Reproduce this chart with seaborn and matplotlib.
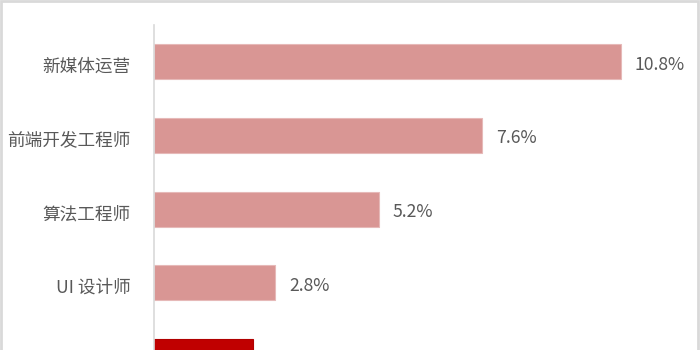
import matplotlib
matplotlib.use("Agg")
import matplotlib.pyplot as plt
import matplotlib.transforms as mtransforms
import seaborn as sns
import pandas as pd
from matplotlib.patches import Rectangle

categories = ["新媒体运营", "前端开发工程师", "算法工程师", "UI 设计师", "整体平均"]
values = [10.8, 7.6, 5.2, 2.8, 2.3]
value_labels = ["10.8%", "7.6%", "5.2%", "2.8%", "2.3%"]
bar_colors = ["#D99694", "#D99694", "#D99694", "#D99694", "#C00000"]

sns.set_theme(style="white")
plt.rcParams['font.family'] = ['Noto Sans CJK SC', 'DejaVu Sans']

df = pd.DataFrame({"category": categories, "value": values})

fig = plt.figure(figsize=(7, 3.5), dpi=100)
left = 154 / 700
ppu = 43.2
width = 12 * ppu / 700
spacing = 73.8
c0 = 61.5
top_px = 25
bottom_px = c0 + 4.52 * spacing
ylim_top = -(c0 - top_px) / spacing
ax = fig.add_axes([left, (350 - bottom_px) / 350, width, (bottom_px - top_px) / 350])

sns.barplot(data=df, x="value", y="category", hue="category", palette=bar_colors,
            legend=False, width=0.475, ax=ax, saturation=1, edgecolor="none")
for p, col in zip(ax.patches, bar_colors):
    p.set_edgecolor("#E6B9B8" if col == "#D99694" else "#B00000")
    p.set_linewidth(0.8)

ax.set_xlim(0, 12)
ax.set_ylim(4.52, ylim_top)
ax.set_xlabel("")
ax.set_ylabel("")
ax.set_xticks([])
ax.tick_params(axis="y", length=0, pad=17, labelsize=12.7, labelcolor="#595959")
shift = mtransforms.ScaledTranslation(0, -3 / 100, fig.dpi_scale_trans)
for lbl in ax.get_yticklabels():
    lbl.set_transform(lbl.get_transform() + shift)
ax.get_yticklabels()[-1].set_visible(False)
for s in ["top", "right", "bottom"]:
    ax.spines[s].set_visible(False)
ax.spines["left"].set_color("#D9D9D9")
ax.spines["left"].set_linewidth(1.2)

for i, (v, lab) in enumerate(zip(values, value_labels)):
    if i == len(values) - 1:
        continue  # off the visible picture
    ax.text(v + 14 / ppu, i, lab, va="center", ha="left", fontsize=12.7,
            color="#595959", clip_on=False, transform=ax.transData + shift)

fig.patches.append(Rectangle((1 / 700, -0.1), 697 / 700, 1.1 - 1 / 350, transform=fig.transFigure,
                             fill=False, edgecolor="#D9D9D9", linewidth=2, clip_on=False))

fig.savefig("out.png", dpi=100)
